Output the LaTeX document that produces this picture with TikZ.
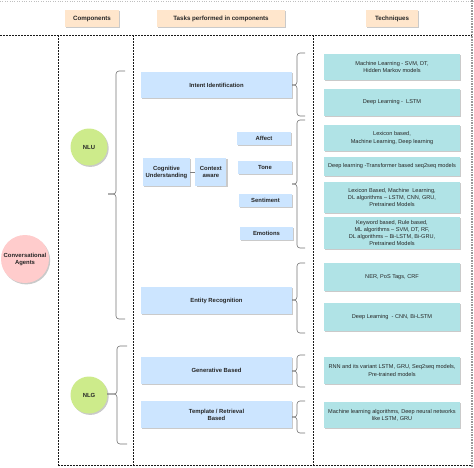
\documentclass[tikz,border=0pt]{standalone}
\usepackage{fontspec}
\setmainfont{Liberation Sans}
\usetikzlibrary{positioning, shadows}
\definecolor{headfill}{HTML}{FFE6CC}
\definecolor{taskfill}{HTML}{CCE5FF}
\definecolor{techfill}{HTML}{B0E3E6}
\definecolor{compfill}{HTML}{CDEB8B}
\definecolor{agentfill}{HTML}{FFCCCC}

\begin{document}
\begin{tikzpicture}[
  x=1pt, y=-1pt,
  boxshadow/.style={drop shadow={shadow xshift=1.2pt, shadow yshift=-1.4pt, opacity=0.35, fill=black!60}},
  head/.style={rectangle, fill=headfill, boxshadow, minimum height=17pt, inner sep=1pt, text=black!85, font=\fontsize{6.2}{7}\selectfont\bfseries},
  task/.style={rectangle, fill=taskfill, boxshadow, inner sep=1pt, align=center, text=black!85, font=\fontsize{5.9}{7}\selectfont\bfseries},
  tech/.style={rectangle, fill=techfill, boxshadow, minimum width=136pt, inner sep=0.5pt, align=center, text=black!85, font=\fontsize{5.6}{7.2}\selectfont},
  comp/.style={circle, fill=compfill, boxshadow, minimum size=37pt, inner sep=0pt, align=center, text=black!85, font=\fontsize{5.9}{7}\selectfont\bfseries},
  frame/.style={black!90, line width=0.8pt, dash pattern=on 1.5pt off 1.5pt},
  curly/.style={black!55, line width=0.6pt, rounded corners=3pt}
]
\useasboundingbox (0,0) rectangle (474,467);

% Frame lines
\draw [gray!50, dotted] (0,1) -- (474,1);
\draw [frame] (0,35) -- (472,35);
\draw [frame] (58,465) -- (472,465);
\draw [frame] (58,35) -- (58,465);
\draw [frame] (133,35) -- (133,465);
\draw [frame] (313,35) -- (313,465);
\draw [gray!80, line width=1.6pt, dash pattern=on 1.6pt off 1pt] (472,0) -- (472,467);

% Headers
\node (hcomp) [head, minimum width=54pt] at (92,18.5) {Components};
\node (htask) [head, minimum width=128pt] at (221,18.5) {Tasks performed in components};
\node (htech) [head, minimum width=52pt] at (392,18.5) {Techniques};

% Components
\node (agent) [comp, fill=agentfill, minimum size=48pt] at (25,259) {Conversational\\Agents};
\node (nlu) [comp] at (89,147) {NLU};
\node (nlg) [comp] at (89,395) {NLG};

% Tasks
\node (intent) [task, minimum width=151pt, minimum height=26pt] at (216.5,85) {Intent Identification};
\node (cog) [task, minimum width=47pt, minimum height=28pt] at (166.5,172) {Cognitive\\Understanding};
\node (ctx) [task, minimum width=31pt, minimum height=28pt, right=5pt of cog] {Context\\aware};
\node (affect) [task, minimum width=54pt, minimum height=13pt] at (264,138.5) {Affect};
\node (tone) [task, minimum width=54pt, minimum height=13pt] at (265,167.5) {Tone};
\node (sentiment) [task, minimum width=53pt, minimum height=13pt] at (265.5,200.5) {Sentiment};
\node (emotions) [task, minimum width=53pt, minimum height=13pt] at (266.5,233.5) {Emotions};
\node (entity) [task, minimum width=151pt, minimum height=27pt] at (216.5,300.5) {Entity Recognition};
\node (gen) [task, minimum width=151pt, minimum height=27pt] at (216.5,370.5) {Generative Based};
\node (templ) [task, minimum width=151pt, minimum height=27pt] at (216.5,414.5) {Template / Retrieval\\Based};

\draw [black!50, line width=0.5pt] (cog) -- (ctx);

% Techniques
\node (ml) [tech, minimum height=26pt] at (392,67) {Machine Learning - SVM, DT,\\Hidden Markov models};
\node (lstm) [tech, minimum height=27pt] at (392,102.5) {Deep Learning -\ \ LSTM};
\node (lex) [tech, minimum height=26pt] at (392,138) {Lexicon based,\\Machine Learning, Deep learning};
\node (seq) [tech, minimum height=19pt] at (392,166.5) {Deep learning -Transformer based seq2seq models};
\node (senti) [tech, minimum height=31pt] at (392,197.5) {Lexicon Based, Machine\ \ Learning,\\DL algorithms -- LSTM, CNN, GRU,\\Pretrained Models};
\node (emo) [tech, minimum height=32pt] at (392,233) {Keyword based, Rule based,\\ML algorithms -- SVM, DT, RF,\\DL algorithms -- Bi-LSTM, Bi-GRU,\\Pretrained Models};
\node (ner) [tech, minimum height=28pt] at (392,277) {NER, PoS Tags, CRF};
\node (cnn) [tech, minimum height=28pt] at (392,317) {Deep Learning\ \ - CNN, Bi-LSTM};
\node (rnn) [tech, minimum height=27pt] at (392,370.5) {RNN and its variant LSTM, GRU, Seq2seq models,\\Pre-trained models};
\node (dnn) [tech, minimum height=26pt] at (392,415) {Machine learning algorithms, Deep neural networks\\like LSTM, GRU};

% Braces
\draw [curly] (125,71) -- (116,71) -- (116,194) -- (108,194);
\draw [curly] (108,194) -- (116,194) -- (116,319) -- (125,319);
\draw [curly] (127,346) -- (117,346) -- (117,394) -- (107,394);
\draw [curly] (107,394) -- (117,394) -- (117,444) -- (127,444);
\foreach \top/\tip/\bot in {53/85/116, 120/184/248, 263/300/333, 355/371/387, 401/417/433} {
  \draw [curly] (305,\top) -- (297,\top) -- (297,\tip) -- (292,\tip);
  \draw [curly] (292,\tip) -- (297,\tip) -- (297,\bot) -- (305,\bot);
}

\end{tikzpicture}
\end{document}
